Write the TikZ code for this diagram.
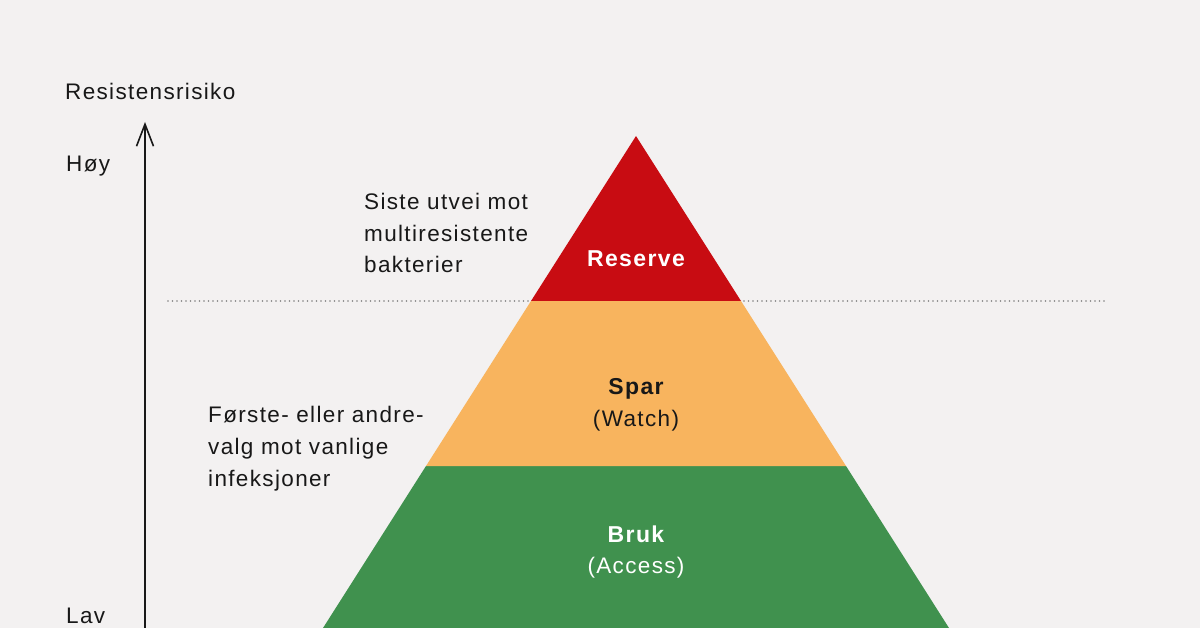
\documentclass[tikz,border=0pt]{standalone}
\usepackage{fontspec}
\setmainfont{Liberation Sans}[LetterSpace=6]
\usetikzlibrary{arrows.meta}
\definecolor{bg}{RGB}{243,241,241}
\definecolor{ink}{RGB}{24,24,24}
\definecolor{reservered}{RGB}{200,12,18}
\definecolor{sparorange}{RGB}{248,180,94}
\definecolor{brukgreen}{RGB}{64,145,78}
\begin{document}
\begin{tikzpicture}[x=1pt, y=-1pt,
  txt/.style={anchor=base west, align=left, inner sep=0pt, text=ink, font=\fontsize{22.5}{31.8}\selectfont},
  tier/.style={anchor=base, inner sep=0pt, font=\fontsize{22.5}{31}\selectfont},
  tiername/.style={tier, font=\fontsize{23}{31}\selectfont\bfseries}
]
\fill[bg] (0,0) rectangle (1200,628);
\useasboundingbox (0,0) rectangle (1200,628);
% dotted divider
\coordinate (dl) at (168,301);
\coordinate (dr) at (1105,301);
\draw[gray, line width=1.7pt, line cap=round, dash pattern=on 0pt off 4.5pt] (dl) -- (dr);
% pyramid
\fill[brukgreen] (426,466) -- (846,466) -- (949,628) -- (323,628) -- cycle;
\fill[sparorange] (531,301) -- (741,301) -- (846,466) -- (426,466) -- cycle;
\fill[reservered] (636,136) -- (741,301) -- (531,301) -- cycle;
\node[tiername, text=white] (reserve) at (636,267) {Reserve};
\node[tiername, text=ink] (spar) at (636,395) {Spar};
\node[tier, text=ink] (watch) at (636,426) {(Watch)};
\node[tiername, text=white] (bruk) at (636,542) {Bruk};
\node[tier, text=white] (access) at (636,573) {(Access)};
% axis
\coordinate (lo) at (145,640);
\coordinate (hi) at (145,122);
\draw[ink, line width=1.6pt, -{Straight Barb[length=22pt, width=17pt]}] (lo) -- (hi);
\node[txt] (risk) at (65,100) {Resistensrisiko};
\node[txt] (hoy) at (66,172) {Høy};
\node[txt] (lav) at (66,623) {Lav};
\node[txt] (siste) at (364,273) {Siste utvei mot\\multiresistente\\bakterier};
\node[txt] (forste) at (208,486) {Første- eller andre-\\valg mot vanlige\\infeksjoner};
\end{tikzpicture}
\end{document}
